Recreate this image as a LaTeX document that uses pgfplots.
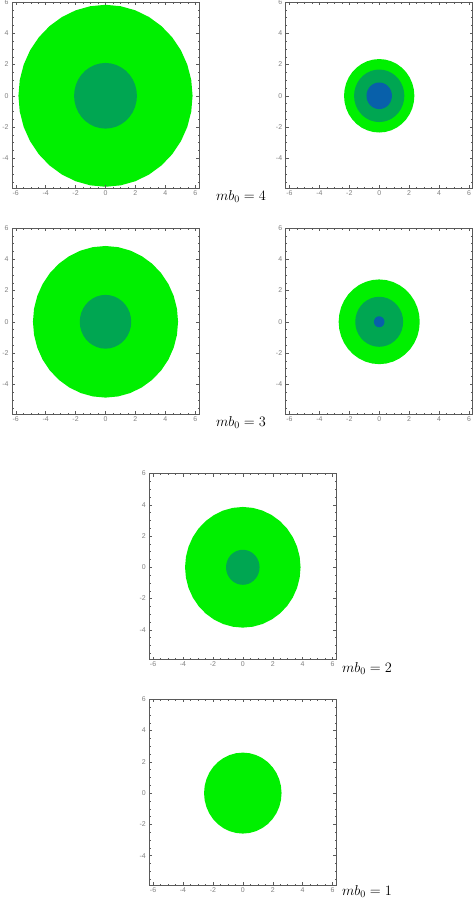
\documentclass[border=0pt]{standalone}
\usepackage{fontspec}
\setsansfont{Liberation Sans}
\usepackage{pgfplots}
\usepackage{pgfplotstable}
\pgfplotsset{compat=1.18}
\definecolor{lgreen}{RGB}{0,240,0}
\definecolor{dgreen}{RGB}{0,166,82}
\definecolor{dblue}{RGB}{8,96,170}
\definecolor{framec}{RGB}{90,90,90}
% unit circle (10 degree steps)
\pgfplotstableread{
x y
1.0000 0.0000
0.9848 0.1736
0.9397 0.3420
0.8660 0.5000
0.7660 0.6428
0.6428 0.7660
0.5000 0.8660
0.3420 0.9397
0.1736 0.9848
0.0000 1.0000
-0.1736 0.9848
-0.3420 0.9397
-0.5000 0.8660
-0.6428 0.7660
-0.7660 0.6428
-0.8660 0.5000
-0.9397 0.3420
-0.9848 0.1736
-1.0000 0.0000
-0.9848 -0.1736
-0.9397 -0.3420
-0.8660 -0.5000
-0.7660 -0.6428
-0.6428 -0.7660
-0.5000 -0.8660
-0.3420 -0.9397
-0.1736 -0.9848
0.0000 -1.0000
0.1736 -0.9848
0.3420 -0.9397
0.5000 -0.8660
0.6428 -0.7660
0.7660 -0.6428
0.8660 -0.5000
0.9397 -0.3420
0.9848 -0.1736
1.0000 0.0000
}\unitcircle
\pgfplotsset{
  panel/.style={
    scale only axis, width=187bp, height=186bp,
    anchor=north west,
    xmin=-6.25, xmax=6.25, ymin=-5.9, ymax=6,
    xtick={-6,-4,...,6}, ytick={-6,-4,...,6},
    minor tick num=3,
    tick align=inside,
    major tick length=3bp, minor tick length=1.5bp,
    /pgf/number format/assume math mode=true,
    tick label style={font=\fontsize{7}{8}\selectfont\sffamily, text=gray},
    xticklabel style={yshift=1pt},
    axis line style={draw=framec, line width=0.5pt},
    every tick/.style={framec, line width=0.4pt},
    axis on top,
  },
  disk/.style={draw=none, mark=none, fill=#1},
}
\newcommand{\disk}[2]{\addplot[disk=#1] table[x expr=\thisrow{x}*#2, y expr=\thisrow{y}*#2] {\unitcircle};}
\begin{document}
\begin{tikzpicture}
\useasboundingbox (0bp,0bp) rectangle (474bp,-899bp);
% row 1
\begin{axis}[panel, at={(12bp,-2bp)}]
\disk{lgreen}{5.82}
\disk{dgreen}{2.10}
\end{axis}
\begin{axis}[panel, at={(285.7bp,-2bp)}]
\disk{lgreen}{2.35}
\disk{dgreen}{1.68}
\disk{dblue}{0.85}
\end{axis}
\node[anchor=base west, font=\fontsize{14}{16}\selectfont, inner sep=0pt] at (216bp,-200bp) {$mb_0=4$};
% row 2
\begin{axis}[panel, at={(12bp,-228bp)}]
\disk{lgreen}{4.85}
\disk{dgreen}{1.72}
\end{axis}
\begin{axis}[panel, at={(285.7bp,-228bp)}]
\disk{lgreen}{2.71}
\disk{dgreen}{1.60}
\disk{dblue}{0.35}
\end{axis}
\node[anchor=base west, font=\fontsize{14}{16}\selectfont, inner sep=0pt] at (216bp,-426bp) {$mb_0=3$};
% row 3
\begin{axis}[panel, at={(149.3bp,-473.5bp)}]
\disk{lgreen}{3.86}
\disk{dgreen}{1.12}
\end{axis}
\node[anchor=base west, font=\fontsize{14}{16}\selectfont, inner sep=0pt] at (342bp,-672bp) {$mb_0=2$};
% row 4
\begin{axis}[panel, at={(149.3bp,-699.3bp)}]
\disk{lgreen}{2.59}
\end{axis}
\node[anchor=base west, font=\fontsize{14}{16}\selectfont, inner sep=0pt] at (342bp,-895.5bp) {$mb_0=1$};
\end{tikzpicture}
\end{document}
